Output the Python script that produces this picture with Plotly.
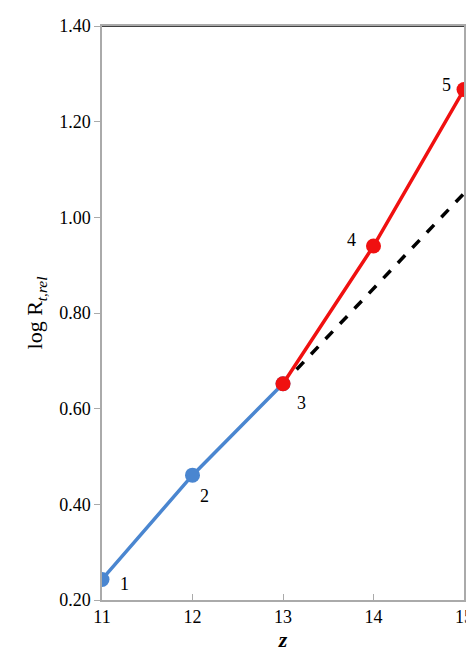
import plotly.graph_objects as go

# data
z_blue = [11, 12, 13]
r_blue = [0.243, 0.461, 0.652]
z_red = [13, 14, 15]
r_red = [0.652, 0.940, 1.267]
z_dash = [13.15, 15]
r_dash = [0.682, 1.050]
labels = ["1", "2", "3", "4", "5"]
label_z = [11, 12, 13, 14, 15]
label_r = [0.243, 0.461, 0.652, 0.940, 1.267]

SERIF = "Times New Roman, Liberation Serif, DejaVu Serif, serif"

fig = go.Figure()
fig.add_trace(go.Scatter(x=z_dash, y=r_dash, mode="lines",
                         line=dict(color="black", width=3.5, dash="dash")))
fig.add_trace(go.Scatter(x=z_blue, y=r_blue, mode="lines+markers",
                         line=dict(color="#4a86d0", width=3.5),
                         marker=dict(size=15, color="#4a86d0")))
fig.add_trace(go.Scatter(x=z_red, y=r_red, mode="lines+markers",
                         line=dict(color="#f01010", width=3.5),
                         marker=dict(size=15, color="#f01010")))

# point numbers (x shift, y shift down)
offsets = [(22, 5), (12, 21), (18, 19), (-22, -6), (-18, -5)]
for t, x, y, (ax, ay) in zip(labels, label_z, label_r, offsets):
    fig.add_annotation(x=x, y=y, text=t, showarrow=False, xshift=ax, yshift=-ay,
                       font=dict(family=SERIF, size=18, color="black"))

fig.add_hline(y=1.40, line=dict(color="black", width=1.5))

fig.update_layout(
    width=474, height=647, showlegend=False,
    plot_bgcolor="white", paper_bgcolor="white",
    margin=dict(l=94, r=18, t=8, b=52),
    font=dict(family=SERIF, size=18, color="black"),
    xaxis=dict(range=[11, 15], dtick=1, showgrid=False, zeroline=False,
               showline=True, linecolor="#aaaaaa", linewidth=1.5, mirror=True,
               ticks="inside", ticklen=6, tickcolor="#aaaaaa",
               title=dict(text="<i><b>z</b></i>", standoff=4)),
    yaxis=dict(range=[0.20, 1.40], dtick=0.2, tickformat=".2f", showgrid=False,
               zeroline=False, showline=True, linecolor="#aaaaaa", linewidth=1.5,
               mirror="ticks", ticks="outside", ticklen=6, tickcolor="#aaaaaa",
               title=dict(text="log R<sub><i>t,rel</i></sub>", standoff=10)),
)

fig.write_html("out.html")
